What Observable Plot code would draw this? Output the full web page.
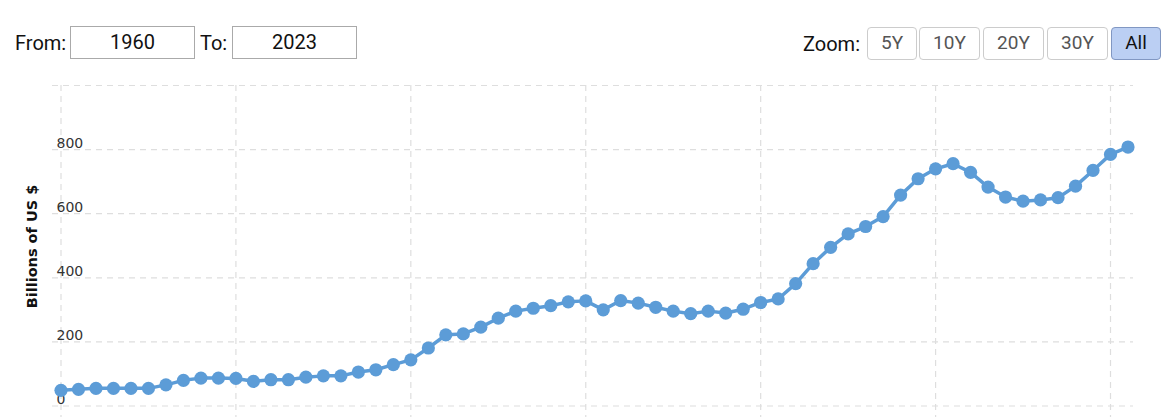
<!DOCTYPE html>
<html>
<head>
<meta charset="utf-8">
<script src="https://cdn.jsdelivr.net/npm/d3@7"></script>
<script src="https://cdn.jsdelivr.net/npm/@observablehq/plot@0.6"></script>
<style>
  html, body { margin: 0; padding: 0; background: #fff; }
  body { width: 1173px; height: 417px; position: relative; overflow: hidden; font-family: Roboto, "Noto Sans", sans-serif; }
  .lbl { position: absolute; font-size: 20px; color: #111; line-height: 32px; }
  .inp { position: absolute; box-sizing: border-box; border: 1px solid #aaa; font-size: 20px; color: #111; text-align: center; line-height: 30px; background: #fff; }
  .btn { position: absolute; box-sizing: border-box; border: 1px solid #ccc; border-radius: 4px; font-size: 19px; color: #555; text-align: center; line-height: 30px; background: #fff; }
  .btn.on { background: #bbcff3; border-color: #8197c2; color: #111; }
  #chart { position: absolute; left: 0; top: 70px; }
</style>
</head>
<body>
<div class="lbl" style="left:15px; top:27px;">From:</div>
<div class="inp" style="left:70px; top:26px; width:125px; height:33px;">1960</div>
<div class="lbl" style="left:200px; top:27px;">To:</div>
<div class="inp" style="left:232px; top:26px; width:125px; height:33px;">2023</div>
<div class="lbl" style="left:803px; top:28px;">Zoom:</div>
<div class="btn" style="left:867px; top:27px; width:50px; height:33px;">5Y</div>
<div class="btn" style="left:919px; top:27px; width:61px; height:33px;">10Y</div>
<div class="btn" style="left:983px; top:27px; width:61px; height:33px;">20Y</div>
<div class="btn" style="left:1047px; top:27px; width:61px; height:33px;">30Y</div>
<div class="btn on" style="left:1111px; top:27px; width:50px; height:33px;">All</div>
<div id="chart"></div>
<script>
const years = [1960,1961,1962,1963,1964,1965,1966,1967,1968,1969,
  1970,1971,1972,1973,1974,1975,1976,1977,1978,1979,
  1980,1981,1982,1983,1984,1985,1986,1987,1988,1989,
  1990,1991,1992,1993,1994,1995,1996,1997,1998,1999,
  2000,2001,2002,2003,2004,2005,2006,2007,2008,2009,
  2010,2011,2012,2013,2014,2015,2016,2017,2018,2019,
  2020,2021];
const values = [49,52,55,55,55,55,66,80,87,87,
  86,77,82,82,90,94,94,106,113,129,
  144,181,222,225,246,274,296,305,313,325,
  328,300,329,321,308,296,288,296,290,302,
  323,334,382,444,495,537,560,591,658,709,
  740,756,729,683,652,639,643,650,686,735,
  785,808];
const xGridTicks = [1960,1970,1980,1990,2000,2010,2020];
const yGridTicks = [0,200,400,600,800,1000];
const yLabelTicks = [0,200,400,600,800];
const yTitle = ["Billions of US $"];

const data = years.map((y, i) => ({year: y, value: values[i]}));
const color = "#5c9cd7";
const grid = "#dedede";

const chart = Plot.plot({
  width: 1173,
  height: 347,
  marginLeft: 52,
  marginRight: 40,
  marginTop: 15,
  marginBottom: 0,
  style: {fontFamily: "'DejaVu Sans', sans-serif", fontSize: "14px", color: "#333", overflow: "visible"},
  x: {domain: [1960, 2021], range: [60.5, 1127.5], axis: null},
  y: {domain: [0, 1000], range: [335.5, 15], axis: null},
  marks: [
    Plot.gridX(xGridTicks, {stroke: grid, strokeOpacity: 1, strokeDasharray: "6,5", strokeWidth: 1.2}),
    Plot.gridY(yGridTicks, {stroke: grid, strokeOpacity: 1, strokeDasharray: "6,5", strokeWidth: 1.2}),
    Plot.text(yLabelTicks, {y: d => d, frameAnchor: "left", textAnchor: "start", dx: 4, dy: -6.5, fill: "#333", fontSize: 14, text: d => String(d)}),
    Plot.text(yTitle, {frameAnchor: "left", textAnchor: "middle", rotate: -90, dx: -20, dy: -5, fontWeight: "bold", fontSize: 14.5, fill: "#111", text: d => d}),
    Plot.line(data, {x: "year", y: "value", stroke: color, strokeWidth: 3.5}),
    Plot.dot(data, {x: "year", y: "value", r: 6.6, fill: color, stroke: "none"})
  ]
});
document.getElementById("chart").appendChild(chart);
</script>
</body>
</html>
